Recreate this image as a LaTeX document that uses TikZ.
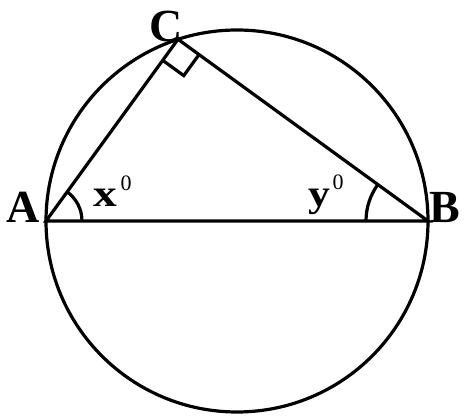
\documentclass[tikz,border=0pt]{standalone}
\usepackage{fontspec}
\setmainfont{Liberation Serif}
\usetikzlibrary{calc}
\begin{document}
\begin{tikzpicture}[x=1pt,y=1pt,line width=3.2pt,
  big/.style={font=\bfseries\fontsize{46}{46}\selectfont,inner sep=0pt,anchor=base},
  mid/.style={font=\bfseries\fontsize{38}{38}\selectfont,inner sep=0pt,anchor=base},
  sml/.style={font=\fontsize{22}{22}\selectfont,inner sep=0pt,anchor=base}]
\useasboundingbox (0,0) rectangle (474,420);
\coordinate (O) at (237,199);
\coordinate (A) at (46,199);
\coordinate (B) at (428,199);
\coordinate (C) at (178,380.7);
\draw (O) circle (191pt);
\draw (A) -- (B) -- (C) -- cycle;
\draw ($(C)!26pt!(A)$) -- ($(C)!26pt!(A)!26pt!90:(A)$) -- ($(C)!26pt!(B)$);
\draw ([shift={(36pt,0)}]A) arc[start angle=0,end angle=54,radius=36pt];
\draw ([shift={(-62pt,0)}]B) arc[start angle=180,end angle=144,radius=62pt];
\node[big] (lA) at (23,197) {A};
\node[big] (lB) at (445,197) {B};
\node[big] (lC) at (166,378) {C};
\node[mid] (lx) at (105,213) {\scalebox{1.25}[1]{x}};
\node[sml] (lx0) at (126,229) {0};
\node[mid] (ly) at (319,213) {\scalebox{1.15}[1]{y}};
\node[sml] (ly0) at (338,230) {0};
\end{tikzpicture}
\end{document}
